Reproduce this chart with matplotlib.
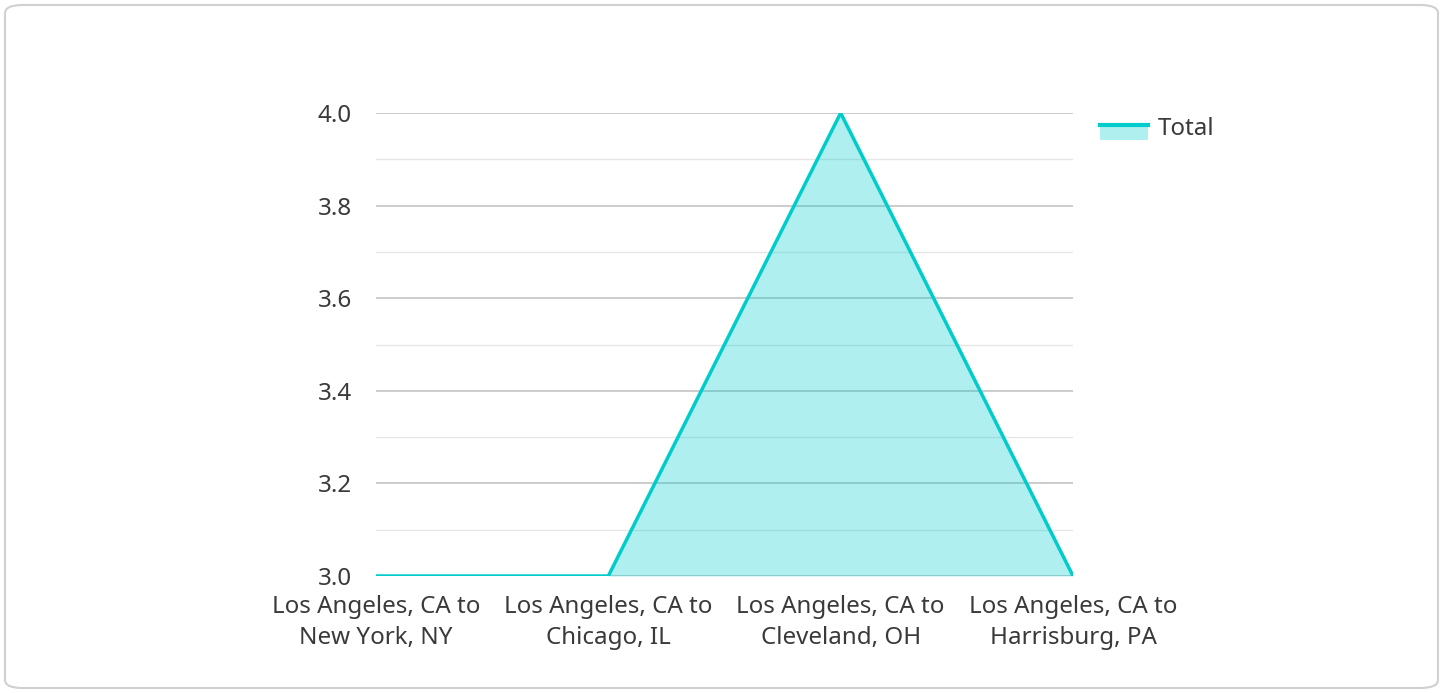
import matplotlib
matplotlib.use("Agg")
import matplotlib.pyplot as plt
from matplotlib.patches import FancyBboxPatch, Rectangle
from matplotlib.lines import Line2D
from matplotlib.ticker import MultipleLocator, FormatStrFormatter

plt.rcParams["font.family"] = ["Noto Sans", "DejaVu Sans"]

# ---------- datos ----------
rutas = [
    "Los Angeles, CA to\nNew York, NY",
    "Los Angeles, CA to\nChicago, IL",
    "Los Angeles, CA to\nCleveland, OH",
    "Los Angeles, CA to\nHarrisburg, PA",
]
total = [3.0, 3.0, 4.0, 3.0]

LINEA = "#00CCCC"
ALFA = 0.31
TEXTO = "#3a3a3a"
TAM = 17.4


class ManoArea:
    # linea arriba y area rellena debajo, como en la leyenda original
    def legend_artist(self, legend, orig_handle, fontsize, handlebox):
        x0, y0 = handlebox.xdescent, handlebox.ydescent
        w, h = handlebox.width, handlebox.height
        caja = Rectangle((x0, y0 - 0.3 * h), w, 0.9 * h, facecolor=LINEA, alpha=ALFA,
                         edgecolor="none", transform=handlebox.get_transform())
        raya = Line2D([x0, x0 + w], [y0 + 0.6 * h] * 2, color=LINEA, linewidth=3,
                      transform=handlebox.get_transform())
        handlebox.add_artist(caja)
        handlebox.add_artist(raya)
        return raya


fig = plt.figure(figsize=(14.45, 6.93), dpi=100)

# marco redondeado
marco = FancyBboxPatch((5 / 1445, 5 / 693), 1433 / 1445, 683 / 693,
                       boxstyle="round,pad=0,rounding_size=0.012",
                       transform=fig.transFigure, facecolor="none",
                       edgecolor="#d0d0d0", linewidth=1.5, zorder=-1)
fig.patches.append(marco)

ax = fig.add_axes([376 / 1445, 117 / 693, 697 / 1445, 463 / 693])
ax.set_facecolor("none")

x = list(range(len(rutas)))
ax.fill_between(x, 3.0, total, color=LINEA, alpha=ALFA, zorder=2, linewidth=0)
ax.plot(x, total, color=LINEA, linewidth=2.5, zorder=3, solid_capstyle="round",
        label="Total")

ax.set_xlim(0, len(rutas) - 1)
ax.set_ylim(3.0, 4.0)
ax.yaxis.set_major_locator(MultipleLocator(0.2))
ax.yaxis.set_minor_locator(MultipleLocator(0.1))
ax.yaxis.set_major_formatter(FormatStrFormatter("%.1f"))
ax.grid(axis="y", which="major", color="#c4c4c4", linewidth=1.2, zorder=1)
ax.grid(axis="y", which="minor", color="#e6e6e6", linewidth=1.0, zorder=1)
ax.set_axisbelow(True)

ax.set_xticks(x)
ax.set_xticklabels(rutas, linespacing=1.37)
ax.tick_params(axis="both", which="both", length=0, labelsize=TAM, labelcolor=TEXTO)
ax.tick_params(axis="y", pad=17.5)
ax.tick_params(axis="x", pad=14)
for s in ax.spines.values():
    s.set_visible(False)

linea_leyenda = ax.lines[0]
fig.legend([linea_leyenda], ["Total"], loc="upper left",
           bbox_to_anchor=(1078 / 1445, 1 - 95 / 693),
           frameon=False, fontsize=TAM, labelcolor=TEXTO, handlelength=2.0,
           handletextpad=0.38, handler_map={Line2D: ManoArea()})

fig.savefig("out.png", dpi=100)
